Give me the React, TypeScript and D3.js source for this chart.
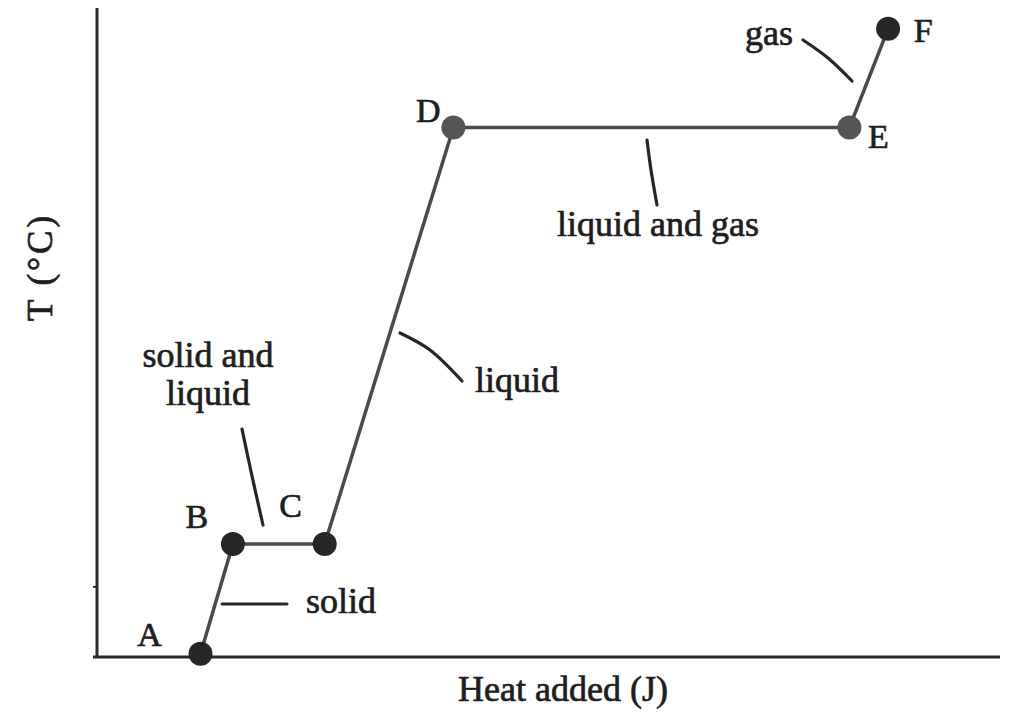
import React from "react";
import * as d3 from "d3";

// Heating curve data (arbitrary units)
const pointLabels = ["A", "B", "C", "D", "E", "F"];
const heatValues = [11.5, 15.1, 25.3, 39.6, 83.6, 87.9];
const tempValues = [0.5, 17.4, 17.4, 81.6, 81.6, 96.8];
const dotDark = [true, true, true, false, false, true];

const phaseLabels = ["solid", "solid and\nliquid", "liquid", "liquid and gas", "gas"];
const axisTitles = ["Heat added (J)", "T (°C)"];

const W = 1013;
const H = 713;

export default function App() {
  const x = d3.scaleLinear().domain([0, 100]).range([97, 997]);
  const y = d3.scaleLinear().domain([0, 100]).range([657, 8]);

  const pts = heatValues.map((h, i) => ({ h, t: tempValues[i], label: pointLabels[i], dark: dotDark[i] }));
  const line = d3
    .line<{ h: number; t: number }>()
    .x((d) => x(d.h))
    .y((d) => y(d.t));

  const font = "'Liberation Serif', 'Times New Roman', serif";
  const ink = "#1e1e1e";
  const textStyle = { fontFamily: font, fill: ink, stroke: ink, strokeWidth: 0.7 } as const;

  // letter label offsets relative to each point (pixels)
  const letterOffsets: [number, number][] = [
    [-51, -8],
    [-36, -16],
    [-34, -27],
    [-25, -5],
    [29, 21],
    [35, 13],
  ];

  const curved = d3.line().curve(d3.curveCatmullRom);

  return (
    <svg
      width={W}
      height={H}
      style={{ position: "absolute", left: 0, top: 0, background: "#fff" }}
    >
      {/* axes */}
      <line x1={x(0)} y1={y(100)} x2={x(0)} y2={y(0) + 1} stroke="#2a2a2a" strokeWidth={3} />
      <line x1={x(0) - 4} y1={y(0)} x2={1000} y2={y(0)} stroke="#2a2a2a" strokeWidth={3} />
      <line x1={x(0) - 4} y1={y(10.8)} x2={x(0)} y2={y(10.8)} stroke="#2a2a2a" strokeWidth={2} />

      {/* curve */}
      <path d={line(pts) || ""} fill="none" stroke="#4a4a4a" strokeWidth={3.5} />

      {/* dots */}
      {pts.map((p, i) => (
        <circle key={i} cx={x(p.h)} cy={y(p.t)} r={12} fill={p.dark ? "#262626" : "#555"} />
      ))}

      {/* point letters */}
      {pts.map((p, i) => (
        <text
          key={"l" + i}
          x={x(p.h) + letterOffsets[i][0]}
          y={y(p.t) + letterOffsets[i][1]}
          fontSize={34}
          textAnchor="middle"
          {...textStyle}
        >
          {p.label}
        </text>
      ))}

      {/* leader lines */}
      <g fill="none" stroke="#262626" strokeWidth={3.2} strokeLinecap="round">
        <line x1={x(13.9)} y1={604} x2={x(21.1)} y2={604} />
        <path d={curved([[242, 429], [252, 476], [263, 525]]) || ""} />
        <path d={curved([[400, 333], [430, 350], [462, 381]]) || ""} />
        <path d={curved([[647, 140], [651, 170], [657, 205]]) || ""} />
        <path d={curved([[803, 40], [828, 58], [852, 81]]) || ""} />
      </g>

      {/* phase labels */}
      <text x={306} y={613} fontSize={36} {...textStyle}>{phaseLabels[0]}</text>
      <text x={208} y={367} fontSize={36} textAnchor="middle" {...textStyle}>
        {phaseLabels[1].split("\n")[0]}
      </text>
      <text x={208} y={405} fontSize={36} textAnchor="middle" {...textStyle}>
        {phaseLabels[1].split("\n")[1]}
      </text>
      <text x={475} y={392} fontSize={36} {...textStyle}>{phaseLabels[2]}</text>
      <text x={557} y={236} fontSize={36} {...textStyle}>{phaseLabels[3]}</text>
      <text x={745} y={45} fontSize={36} {...textStyle}>{phaseLabels[4]}</text>

      {/* axis titles */}
      <text x={563} y={701} fontSize={36} textAnchor="middle" {...textStyle}>{axisTitles[0]}</text>
      <text
        transform={`translate(52,267) rotate(-90)`}
        fontSize={35}
        letterSpacing={3}
        textAnchor="middle"
        {...textStyle}
      >
        {axisTitles[1]}
      </text>
    </svg>
  );
}
